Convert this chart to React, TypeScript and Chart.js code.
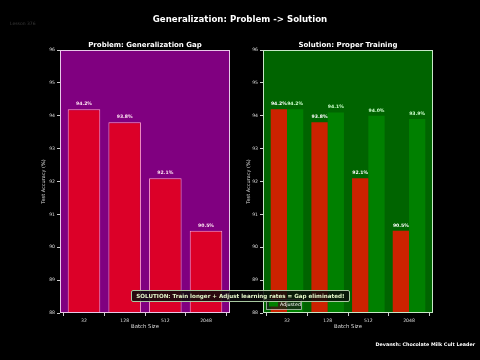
import React, { useEffect, useRef } from "react";
import { Chart, registerables } from "chart.js";

Chart.register(...registerables);

const batchSizes = ["32", "128", "512", "2048"];
const originalAcc = [94.2, 93.8, 92.1, 90.5];
const adjustedAcc = [94.2, 94.1, 94.0, 93.9];
const yTicks = [88, 89, 90, 91, 92, 93, 94, 95, 96];

const FONT = "'DejaVu Sans', sans-serif";

const bgPlugin = {
  id: "panelBg",
  beforeDraw(chart: any, _a: any, opts: any) {
    const { ctx, chartArea: a } = chart;
    ctx.save();
    ctx.fillStyle = opts.color;
    ctx.fillRect(a.left, a.top, a.width, a.height);
    ctx.restore();
  },
  afterDraw(chart: any, _a: any, opts: any) {
    const { ctx, chartArea: a } = chart;
    ctx.save();
    ctx.strokeStyle = opts.spine;
    ctx.lineWidth = 1;
    ctx.strokeRect(a.left + 0.5, a.top + 0.5, a.width - 1, a.height - 1);
    ctx.fillStyle = "#ffffff";
    ctx.font = `bold 7px ${FONT}`;
    ctx.textAlign = "center";
    ctx.textBaseline = "bottom";
    ctx.fillText(opts.title, (a.left + a.right) / 2, a.top - 1);
    ctx.restore();
  },
};

const labelPlugin = {
  id: "valueLabels",
  afterDatasetsDraw(chart: any, _a: any, opts: any) {
    const { ctx } = chart;
    ctx.save();
    ctx.font = `bold 4.6px ${FONT}`;
    ctx.textAlign = "center";
    ctx.textBaseline = "bottom";
    chart.data.datasets.forEach((ds: any, di: number) => {
      const meta = chart.getDatasetMeta(di);
      ctx.fillStyle = opts.colors[di];
      meta.data.forEach((bar: any, i: number) => {
        ctx.fillText(ds.data[i].y.toFixed(1) + "%", bar.x, bar.y - 3);
      });
    });
    ctx.restore();
  },
};

const legendPlugin = {
  id: "miniLegend",
  afterDraw(chart: any, _a: any, opts: any) {
    if (!opts.show) return;
    const { ctx, chartArea: a } = chart;
    const x = a.left + 3;
    const y = a.bottom - 14;
    ctx.save();
    ctx.fillStyle = "rgba(20,40,20,0.85)";
    ctx.strokeStyle = "#bbbbbb";
    ctx.lineWidth = 0.8;
    ctx.fillRect(x, y, 35, 10);
    ctx.strokeRect(x + 0.5, y + 0.5, 35, 10);
    ctx.fillStyle = "#008000";
    ctx.fillRect(x + 3, y + 3, 9, 4.5);
    ctx.fillStyle = "#ffffff";
    ctx.font = `4.8px ${FONT}`;
    ctx.textBaseline = "middle";
    ctx.fillText("Adjusted", x + 14, y + 5.5);
    ctx.restore();
  },
};

function makeConfig(opts: {
  datasets: any[];
  padLeft: number;
  padRight: number;
  yWidth: number;
  bg: string;
  spine: string;
  title: string;
  labelColors: string[];
  legend: boolean;
  barPct: number;
  catPct: number;
}) {
  return {
    type: "bar",
    data: { datasets: opts.datasets },
    plugins: [bgPlugin, labelPlugin, legendPlugin],
    options: {
      responsive: false,
      animation: false,
      events: [],
      layout: { padding: { left: opts.padLeft, right: opts.padRight, top: 50, bottom: 30 } },
      datasets: { bar: { barPercentage: opts.barPct, categoryPercentage: opts.catPct } },
      plugins: {
        legend: { display: false },
        title: { display: false },
        tooltip: { enabled: false },
        panelBg: { color: opts.bg, spine: opts.spine, title: opts.title },
        valueLabels: { colors: opts.labelColors },
        miniLegend: { show: opts.legend },
      },
      scales: {
        x: {
          type: "linear",
          min: -0.59,
          max: 3.59,
          offset: false,
          afterBuildTicks(s: any) {
            s.ticks = batchSizes.map((_, i) => ({ value: i }));
          },
          afterFit(s: any) {
            s.height = 17;
          },
          grid: { display: true, drawOnChartArea: false, tickLength: 3, color: "#cccccc" },
          border: { display: false },
          ticks: {
            color: "#dddddd",
            font: { size: 4.6, family: FONT },
            padding: 2,
            maxRotation: 0,
            callback: (v: number) => batchSizes[Math.round(v)] ?? "",
          },
          title: { display: true, text: "Batch Size", color: "#dddddd", font: { size: 5.3, family: FONT }, padding: 0 },
        },
        y: {
          min: 88,
          max: 96,
          afterBuildTicks(s: any) {
            s.ticks = yTicks.map((v) => ({ value: v }));
          },
          afterFit(s: any) {
            s.width = opts.yWidth;
          },
          grid: { display: true, drawOnChartArea: false, tickLength: 3, color: "#cccccc" },
          border: { display: false },
          ticks: { color: "#dddddd", font: { size: 4.6, family: FONT }, padding: 2 },
          title: { display: true, text: "Test Accuracy (%)", color: "#dddddd", font: { size: 5, family: FONT }, padding: 0 },
        },
      },
    },
  } as any;
}

export default function App() {
  const leftRef = useRef<HTMLCanvasElement>(null);
  const rightRef = useRef<HTMLCanvasElement>(null);

  useEffect(() => {
    const toPts = (arr: number[]) => arr.map((y, i) => ({ x: i, y }));
    const left = new Chart(
      leftRef.current!,
      makeConfig({
        datasets: [
          {
            label: "Original",
            data: toPts(originalAcc),
            backgroundColor: "#dc0028",
            borderColor: "#ff9ec8",
            borderWidth: 1,
          },
        ],
        padLeft: 41,
        padRight: 10,
        yWidth: 19,
        bg: "#800080",
        spine: "#e8c8e8",
        title: "Problem: Generalization Gap",
        labelColors: ["#ffe6f2"],
        legend: false,
        barPct: 0.8,
        catPct: 1,
      })
    );
    const right = new Chart(
      rightRef.current!,
      makeConfig({
        datasets: [
          {
            label: "Original",
            data: toPts(originalAcc),
            backgroundColor: "#cc2200",
            borderWidth: 0,
          },
          {
            label: "Adjusted",
            data: toPts(adjustedAcc),
            backgroundColor: "#008000",
            borderWidth: 0,
          },
        ],
        padLeft: 6,
        padRight: 47,
        yWidth: 17,
        bg: "#006400",
        spine: "#c8e8c8",
        title: "Solution: Proper Training",
        labelColors: ["#ffffff", "#ccffcc"],
        legend: true,
        barPct: 1,
        catPct: 0.8,
      })
    );
    return () => {
      left.destroy();
      right.destroy();
    };
  }, []);

  return (
    <div
      style={{
        position: "fixed",
        left: 0,
        top: 0,
        width: 480,
        height: 360,
        background: "#000000",
        fontFamily: FONT,
        overflow: "hidden",
      }}
    >
      <canvas ref={leftRef} width={240} height={360} style={{ position: "absolute", left: 0, top: 0, width: 240, height: 360 }} />
      <canvas ref={rightRef} width={240} height={360} style={{ position: "absolute", left: 240, top: 0, width: 240, height: 360 }} />
      <div
        style={{
          position: "absolute",
          left: 10,
          top: 21,
          fontSize: 4.5,
          color: "#3a3a3a",
        }}
      >
        Lesson 376
      </div>
      <div
        style={{
          position: "absolute",
          left: 0,
          width: 480,
          top: 14,
          textAlign: "center",
          fontSize: 8.6,
          fontWeight: "bold",
          color: "#ffffff",
        }}
      >
        Generalization: Problem -&gt; Solution
      </div>
      <div
        style={{
          position: "absolute",
          left: 131,
          top: 290,
          width: 219,
          height: 12,
          boxSizing: "border-box",
          border: "1px solid #a8c8a0",
          borderRadius: 2,
          background: "rgba(10,10,10,0.85)",
          color: "#e2f5c8",
          fontSize: 5.6,
          fontWeight: "bold",
          lineHeight: "10px",
          textAlign: "center",
          whiteSpace: "nowrap",
        }}
      >
        SOLUTION: Train longer + Adjust learning rates = Gap eliminated!
      </div>
      <div
        style={{
          position: "absolute",
          right: 5,
          top: 342,
          fontSize: 4.8,
          fontWeight: "bold",
          color: "#ffffff",
          whiteSpace: "nowrap",
        }}
      >
        Devansh: Chocolate Milk Cult Leader
      </div>
    </div>
  );
}
